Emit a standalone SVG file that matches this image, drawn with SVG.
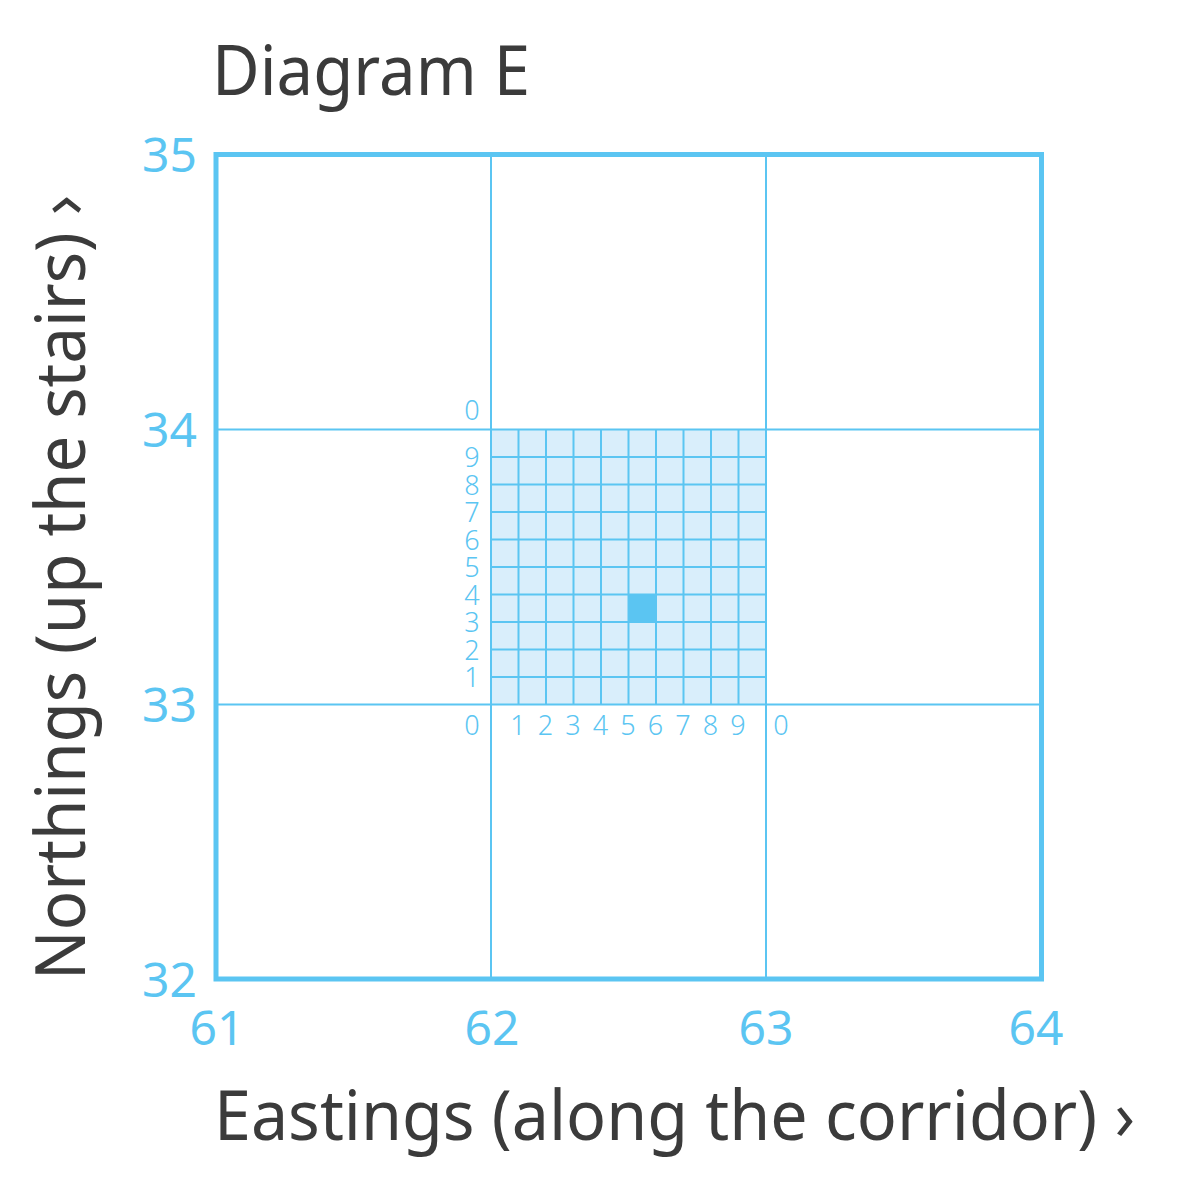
<svg xmlns="http://www.w3.org/2000/svg" width="1181" height="1181" viewBox="0 0 1181 1181">
<style>
.dark{fill:#3b3b3b;font-family:"Noto Sans","Open Sans","Liberation Sans",sans-serif;font-size:70px}
.big{fill:#5bc5f2;font-family:"Noto Sans","Open Sans","Liberation Sans",sans-serif;font-size:48px}
.sm{fill:#5bc5f2;font-family:"Noto Sans","Open Sans","Liberation Sans",sans-serif;font-size:27px;font-weight:300;text-anchor:middle}
.thin{stroke:#5bc5f2;stroke-width:2;fill:none}
</style>
<rect width="1181" height="1181" fill="#ffffff"/>
<g id="title"><text class="dark" x="212" y="95" textLength="318" lengthAdjust="spacingAndGlyphs">Diagram E</text></g>
<g id="minigrid">
<rect x="491" y="429.5" width="275" height="275" fill="#d9eefb"/>
<rect x="628.5" y="594.5" width="27.5" height="27.5" fill="#5bc5f2"/>
<path class="thin" d="M518.5 429.5V704.5M546 429.5V704.5M573.5 429.5V704.5M601 429.5V704.5M628.5 429.5V704.5M656 429.5V704.5M683.5 429.5V704.5M711 429.5V704.5M738.5 429.5V704.5M491 457H766M491 484.5H766M491 512H766M491 539.5H766M491 567H766M491 594.5H766M491 622H766M491 649.5H766M491 677H766"/>
</g>
<g id="grid">
<path class="thin" d="M491 154.5V979M766 154.5V979M216 429.5H1041.5M216 704.5H1041.5"/>
<rect x="216" y="154.5" width="825.5" height="824.5" fill="none" stroke="#5bc5f2" stroke-width="5"/>
</g>
<g id="northing-labels">
<text class="big" x="197" y="172" text-anchor="end">35</text>
<text class="big" x="197" y="447" text-anchor="end">34</text>
<text class="big" x="197" y="722" text-anchor="end">33</text>
<text class="big" x="197" y="997" text-anchor="end">32</text>
</g>
<g id="easting-labels">
<text class="big" x="217" y="1045" text-anchor="middle">61</text>
<text class="big" x="492" y="1045" text-anchor="middle">62</text>
<text class="big" x="766" y="1045" text-anchor="middle">63</text>
<text class="big" x="1036" y="1045" text-anchor="middle">64</text>
</g>
<g id="small-north-labels">
<text class="sm" x="472" y="420">0</text>
<text class="sm" x="472" y="467">9</text>
<text class="sm" x="472" y="494.5">8</text>
<text class="sm" x="472" y="522">7</text>
<text class="sm" x="472" y="549.5">6</text>
<text class="sm" x="472" y="577">5</text>
<text class="sm" x="472" y="604.5">4</text>
<text class="sm" x="472" y="632">3</text>
<text class="sm" x="472" y="659.5">2</text>
<text class="sm" x="472" y="687">1</text>
</g>
<g id="small-east-labels">
<text class="sm" x="472" y="735">0</text>
<text class="sm" x="518" y="735">1</text>
<text class="sm" x="545.5" y="735">2</text>
<text class="sm" x="573" y="735">3</text>
<text class="sm" x="600.5" y="735">4</text>
<text class="sm" x="628" y="735">5</text>
<text class="sm" x="655.5" y="735">6</text>
<text class="sm" x="683" y="735">7</text>
<text class="sm" x="710.5" y="735">8</text>
<text class="sm" x="738" y="735">9</text>
<text class="sm" x="781" y="735">0</text>
</g>
<g id="x-axis-title"><text class="dark" x="214" y="1140" textLength="921" lengthAdjust="spacingAndGlyphs">Eastings (along the corridor) ›</text></g>
<g id="y-axis-title"><text class="dark" transform="translate(85,980) rotate(-90)" x="0" y="0" textLength="785" lengthAdjust="spacingAndGlyphs">Northings (up the stairs) ›</text></g>
</svg>
